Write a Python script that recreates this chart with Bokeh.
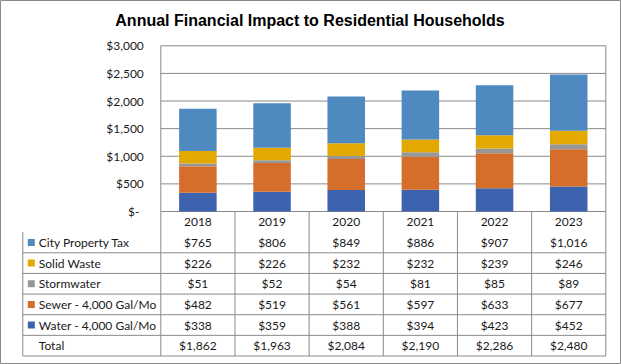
from bokeh.plotting import figure
from bokeh.models import Range1d, ColumnDataSource
from bokeh.core.properties import value
from bokeh.embed import file_html
from bokeh.resources import INLINE

# ---------------- data ----------------
title_text = "Annual Financial Impact to Residential Households"
years = ["2018", "2019", "2020", "2021", "2022", "2023"]
water = [338, 359, 388, 394, 423, 452]
sewer = [482, 519, 561, 597, 633, 677]
storm = [51, 52, 54, 81, 85, 89]
solid = [226, 226, 232, 232, 239, 246]
city = [765, 806, 849, 886, 907, 1016]
totals = [1862, 1963, 2084, 2190, 2286, 2480]
series_names = ["Water - 4,000 Gal/Mo", "Sewer - 4,000 Gal/Mo", "Stormwater",
                "Solid Waste", "City Property Tax"]
series_values = [water, sewer, storm, solid, city]
series_colors = ["#3D63AE", "#D46E2A", "#979797", "#E3A900", "#4E8AC0"]
y_ticks = [0, 500, 1000, 1500, 2000, 2500, 3000]
y_tick_labels = ["$-", "$500", "$1,000", "$1,500", "$2,000", "$2,500", "$3,000"]

FONT = "Lato"
TXT = "#1a1a1a"
LINE = "#8a8a8a"

W, H = 621, 364
X0, X6 = 160.3, 605.3          # pixel x of plot-area left/right
ux = (X6 - X0) / 6             # px per category unit
Y0, Y3000 = 211.0, 45.3        # pixel y of $0 and $3,000
py = (Y0 - Y3000) / 3000       # px per dollar


def dx(px):
    return (px - X0) / ux


def dy(px):
    return (Y0 - px) / py


p = figure(width=W, height=H, output_backend="svg", toolbar_location=None,
           x_range=Range1d(dx(0), dx(W)), y_range=Range1d(dy(H), dy(0)),
           min_border_left=0, min_border_right=0, min_border_top=0, min_border_bottom=0)
p.outline_line_color = LINE
p.outline_line_width = 1
p.xgrid.visible = False
p.ygrid.visible = False
p.xaxis.visible = False
p.yaxis.visible = False
p.background_fill_color = "white"
p.border_fill_color = "white"

xs = [i + 0.5 for i in range(len(years))]

# ---- chart: gridlines and plot-area sides
p.segment(x0=[0] * len(y_ticks), x1=[6] * len(y_ticks), y0=y_ticks, y1=y_ticks,
          line_color=LINE, line_width=1)
p.segment(x0=[0, 6], x1=[0, 6], y0=[0, 0], y1=[y_ticks[-1]] * 2,
          line_color=LINE, line_width=1)

src = ColumnDataSource(dict(x=xs, **{n: v for n, v in zip(series_names, series_values)}))
p.vbar_stack(series_names, x="x", width=0.506, color=series_colors, line_color=None, source=src)

# y tick labels ("$-" is accounting-format, sits a little further left)
lab_x = [dx(139.0)] + [dx(143.3)] * (len(y_ticks) - 1)
p.text(x=lab_x, y=y_ticks, text=y_tick_labels, text_align="right", text_baseline="middle",
       text_font=value(FONT), text_font_size="12px", text_color=TXT)

# title
p.text(x=[dx(309.5)], y=[dy(19.8)], text=[title_text], text_align="center", text_baseline="middle",
       text_font=value("Liberation Sans"), text_font_style="bold", text_font_size="16px",
       text_color="#000000")

# ---- data table
rh = (355.5 - Y0) / 7
nrows = len(series_names) + 1          # body rows (series + total)


def row_y(j):                           # boundary j, j=0 bottom of table, j=7 top (the $0 line)
    return dy(Y0 + (7 - j) * rh)


left = dx(22.3)
hy = [row_y(j) for j in range(nrows)]
p.segment(x0=[left] * nrows, x1=[6] * nrows, y0=hy, y1=hy, line_color=LINE, line_width=1)
p.segment(x0=list(range(7)), x1=list(range(7)), y0=[row_y(0)] * 7, y1=[0] * 7,
          line_color=LINE, line_width=1)
p.segment(x0=[left], x1=[left], y0=[row_y(0)], y1=[row_y(nrows)], line_color=LINE, line_width=1)

# header
p.text(x=xs, y=[dy(Y0 + 0.5 * rh)] * len(xs), text=years, text_align="center", text_baseline="middle",
       text_font=value(FONT), text_font_size="12px", text_color=TXT)

row_names = list(reversed(series_names))
row_vals = list(reversed(series_values))
row_cols = list(reversed(series_colors))
sw_x = dx(30.8)
lb_x = dx(38.3)
for k, (nm, vals, col) in enumerate(zip(row_names, row_vals, row_cols)):
    yy = dy(Y0 + (k + 1.5) * rh)
    p.scatter(x=[sw_x], y=[yy], marker="square", size=7, color=col, line_color=None)
    p.text(x=[lb_x], y=[yy], text=[nm], text_align="left", text_baseline="middle",
           text_font=value(FONT), text_font_size="12px", text_color=TXT)
    p.text(x=xs, y=[yy] * len(xs), text=[f"${v:,}" for v in vals], text_align="center",
           text_baseline="middle", text_font=value(FONT), text_font_size="12px", text_color=TXT)

yt = dy(Y0 + 6.5 * rh)
p.text(x=[lb_x], y=[yt], text=["Total"], text_align="left", text_baseline="middle",
       text_font=value(FONT), text_font_size="12px", text_color=TXT)
p.text(x=xs, y=[yt] * len(xs), text=[f"${v:,}" for v in totals], text_align="center",
       text_baseline="middle", text_font=value(FONT), text_font_size="12px", text_color=TXT)

open("out.html", "w").write(file_html(p, INLINE))
